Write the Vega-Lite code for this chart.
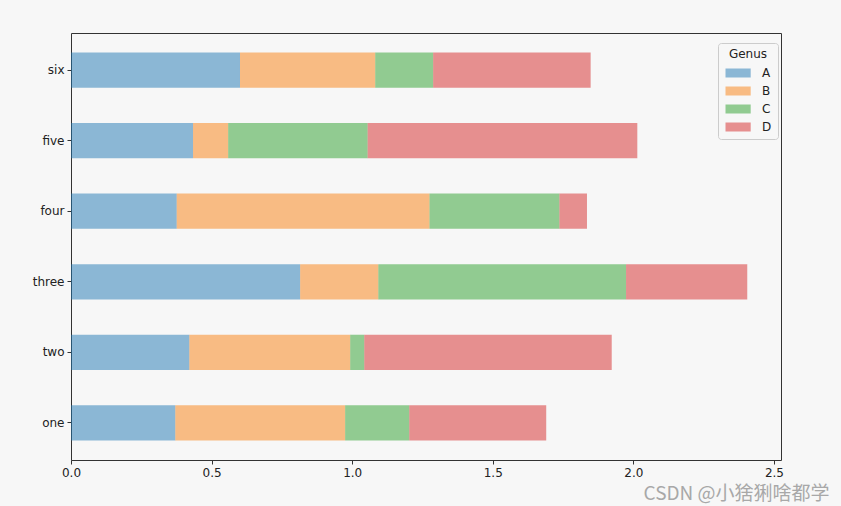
{
  "$schema": "https://vega.github.io/schema/vega-lite/v6.json",
  "width": 710,
  "height": 427,
  "autosize": {"type": "none"},
  "padding": {"left": 71, "top": 33, "right": 60, "bottom": 46},
  "background": "#f7f7f7",
  "title": {
    "text": "CSDN @小猞猁啥都学",
    "orient": "bottom",
    "anchor": "end",
    "font": "Noto Sans CJK SC",
    "fontSize": 19,
    "fontWeight": "normal",
    "color": "#a8a8a8",
    "offset": 7,
    "dx": 46
  },
  "data": {
    "values": [
      {"Row": "one", "Genus": "A", "Value": 0.371},
      {"Row": "one", "Genus": "B", "Value": 0.604},
      {"Row": "one", "Genus": "C", "Value": 0.228},
      {"Row": "one", "Genus": "D", "Value": 0.487},
      {"Row": "two", "Genus": "A", "Value": 0.421},
      {"Row": "two", "Genus": "B", "Value": 0.572},
      {"Row": "two", "Genus": "C", "Value": 0.05},
      {"Row": "two", "Genus": "D", "Value": 0.88},
      {"Row": "three", "Genus": "A", "Value": 0.815},
      {"Row": "three", "Genus": "B", "Value": 0.278},
      {"Row": "three", "Genus": "C", "Value": 0.881},
      {"Row": "three", "Genus": "D", "Value": 0.431},
      {"Row": "four", "Genus": "A", "Value": 0.376},
      {"Row": "four", "Genus": "B", "Value": 0.899},
      {"Row": "four", "Genus": "C", "Value": 0.462},
      {"Row": "four", "Genus": "D", "Value": 0.098},
      {"Row": "five", "Genus": "A", "Value": 0.434},
      {"Row": "five", "Genus": "B", "Value": 0.125},
      {"Row": "five", "Genus": "C", "Value": 0.496},
      {"Row": "five", "Genus": "D", "Value": 0.959},
      {"Row": "six", "Genus": "A", "Value": 0.601},
      {"Row": "six", "Genus": "B", "Value": 0.481},
      {"Row": "six", "Genus": "C", "Value": 0.206},
      {"Row": "six", "Genus": "D", "Value": 0.56}
    ]
  },
  "mark": {"type": "bar", "opacity": 0.5},
  "encoding": {
    "y": {
      "field": "Row",
      "type": "nominal",
      "sort": ["six", "five", "four", "three", "two", "one"],
      "scale": {"paddingInner": 0.5, "paddingOuter": 0.275},
      "axis": {"title": null}
    },
    "x": {
      "field": "Value",
      "type": "quantitative",
      "stack": "zero",
      "scale": {"domain": [0, 2.525], "nice": false},
      "axis": {"title": null, "values": [0, 0.5, 1, 1.5, 2, 2.5], "format": ".1f", "labelFlush": false}
    },
    "color": {
      "field": "Genus",
      "type": "nominal",
      "scale": {"domain": ["A", "B", "C", "D"], "range": ["#1f77b4", "#f97f10", "#2ca02c", "#d62728"]},
      "legend": {
        "orient": "none",
        "legendX": 647,
        "legendY": 10,
        "title": "Genus"
      }
    },
    "order": {"field": "Genus", "sort": "ascending"}
  },
  "config": {
    "view": {"stroke": "#333333", "strokeWidth": 1, "fill": "#f7f7f7"},
    "axis": {
      "domain": false,
      "grid": false,
      "labelFont": "DejaVu Sans",
      "labelFontSize": 12,
      "labelColor": "#222222",
      "tickColor": "#333333",
      "tickSize": 4,
      "labelPadding": 3
    },
    "legend": {
      "titleFont": "DejaVu Sans",
      "titleFontSize": 12,
      "titleFontWeight": "normal",
      "titleColor": "#222222",
      "titleAnchor": "middle",
      "titlePadding": 6,
      "labelFont": "DejaVu Sans",
      "labelFontSize": 12,
      "labelColor": "#222222",
      "symbolType": "M-1,-1H4.6V1H-1Z",
      "symbolSize": 81,
      "symbolOpacity": 0.5,
      "symbolStrokeWidth": 0,
      "labelOffset": 26,
      "rowPadding": 6,
      "padding": 6,
      "strokeColor": "#cccccc",
      "cornerRadius": 3,
      "fillColor": "#f7f7f7"
    }
  }
}
